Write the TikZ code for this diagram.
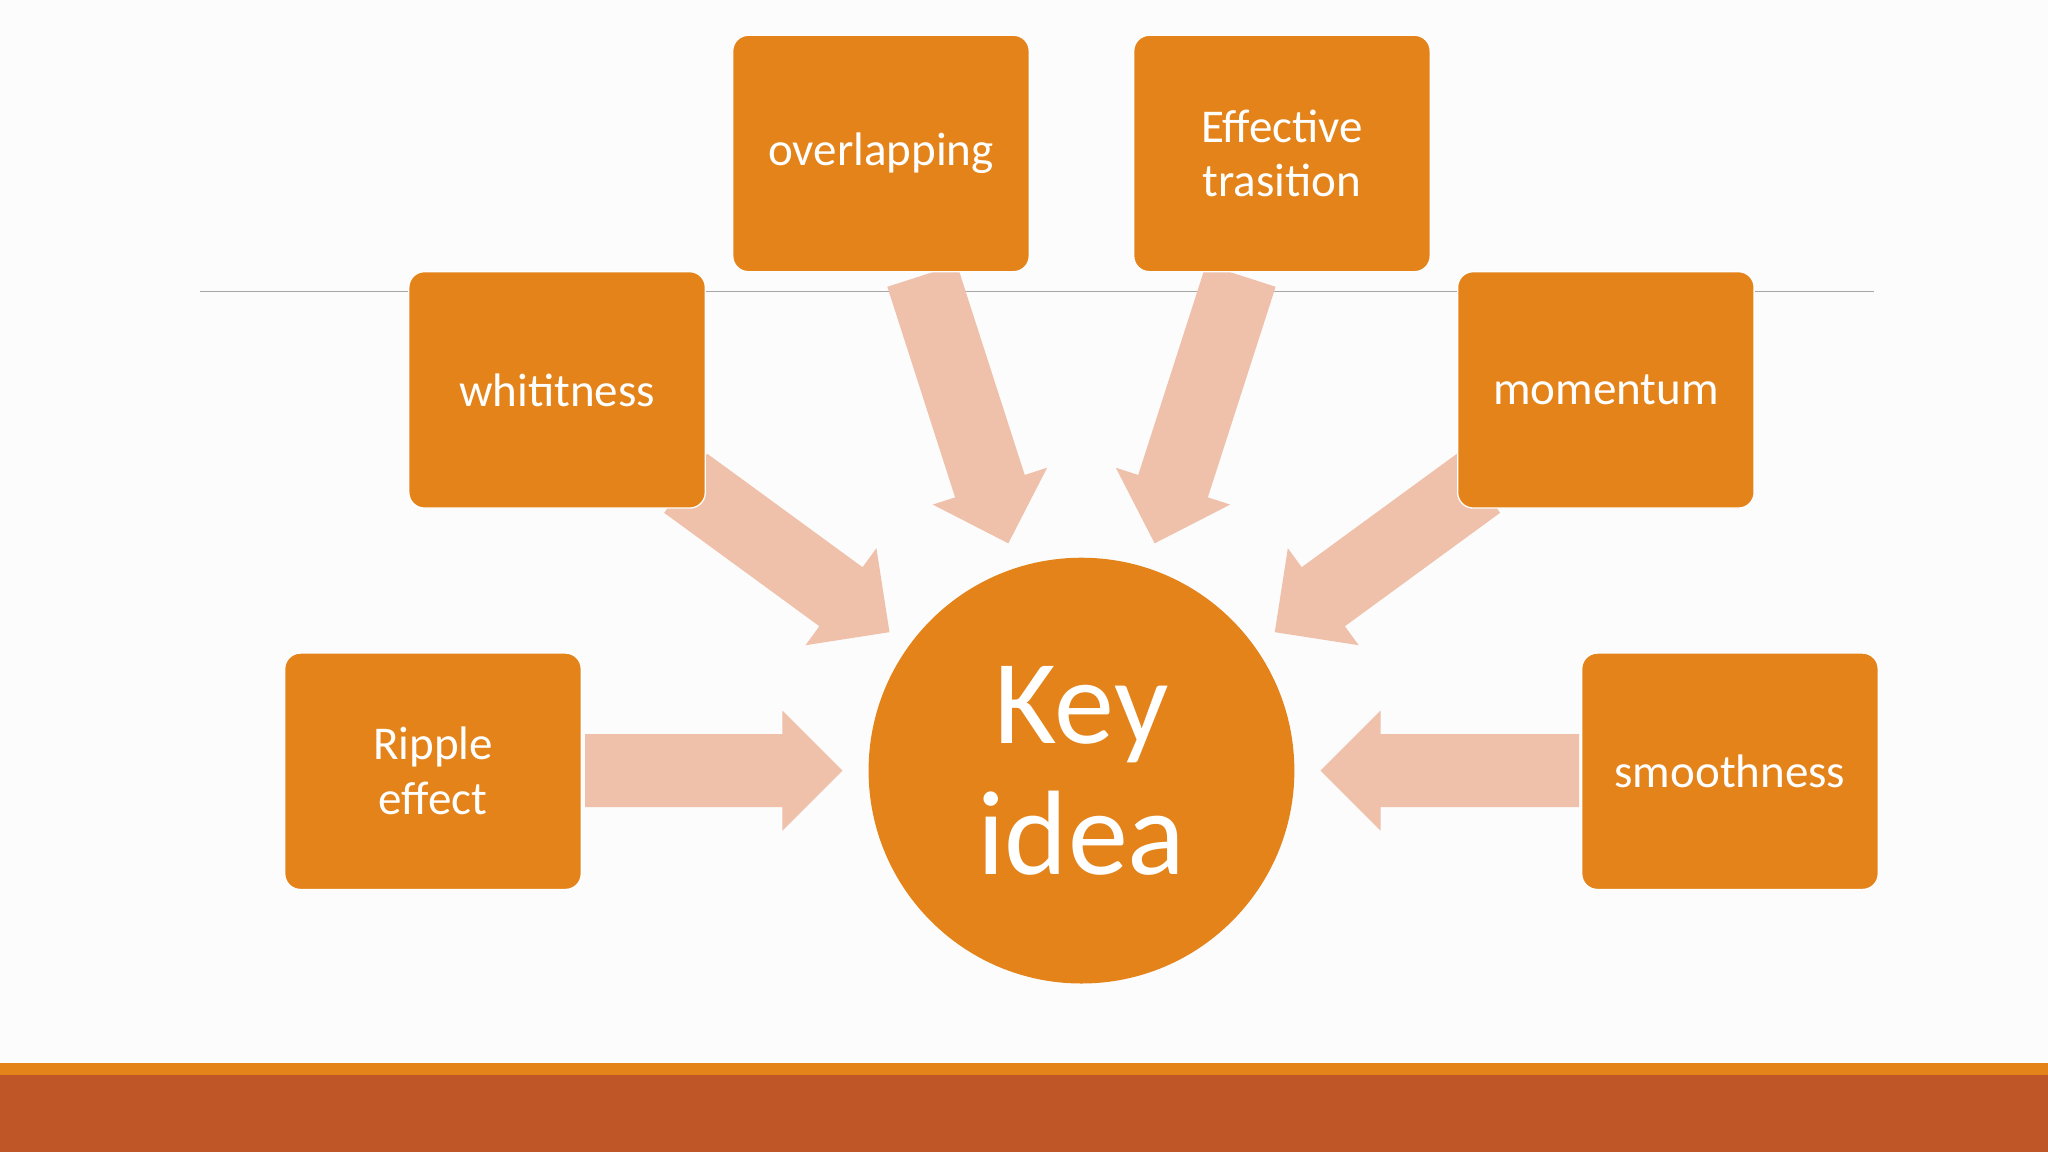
\documentclass[tikz,border=0pt]{standalone}
\usepackage{fontspec}
\setmainfont{Carlito}
\usetikzlibrary{calc}
\definecolor{boxor}{HTML}{E3831A}
\definecolor{arrowpk}{HTML}{EFC0AA}
\definecolor{bandred}{HTML}{BE5628}
\tikzset{
  keybox/.style={rectangle, rounded corners=12pt, fill=boxor, draw=white, line width=1pt,
    minimum width=227pt, minimum height=181pt, text=white, font=\fontsize{36}{42}\selectfont, align=center},
  arrowfill/.style={fill=arrowpk}
}
\newcommand\fatarrow[2]{%
  \coordinate (hb) at ($(#2)!46pt!(#1)$);
  \fill[arrowfill] ($(#1)!28pt!90:(#2)$) -- ($(hb)!28pt!-90:(#1)$) -- ($(hb)!46pt!-90:(#1)$) -- (#2)
    -- ($(hb)!46pt!90:(#1)$) -- ($(hb)!28pt!90:(#1)$) -- ($(#1)!28pt!-90:(#2)$) -- cycle;}
\begin{document}
\begin{tikzpicture}[x=1pt,y=-1pt]
\fill[white!99!black] (0,0) rectangle (1568,882);
\useasboundingbox (0,0) rectangle (1568,882);
\fill[boxor] (0,814) rectangle (1568,823);
\fill[bandred] (0,823) rectangle (1568,882);
\draw[gray!70, line width=1pt] (153,223) -- (1435,223);
% arrow coordinates
\coordinate (s1) at (706,211); \coordinate (t1) at (772,416);
\coordinate (s2) at (950,211); \coordinate (t2) at (884,416);
\coordinate (s3) at (525,370); \coordinate (t3) at (681,484);
\coordinate (s4) at (1132,370); \coordinate (t4) at (976,484);
\coordinate (s5) at (448,590); \coordinate (t5) at (645,590);
\coordinate (s6) at (1209,590); \coordinate (t6) at (1011,590);
\fatarrow{s1}{t1}
\fatarrow{s2}{t2}
\fatarrow{s3}{t3}
\fatarrow{s4}{t4}
\fatarrow{s5}{t5}
\fatarrow{s6}{t6}
\node[keybox] (ov) at (674.5,117.5) {overlapping};
\node[keybox] (ef) at (981.5,117.5) {Effective\\trasition};
\node[keybox] (wh) at (426.5,298.5) {whititness};
\node[keybox] (mo) at (1229.5,298.5) {momentum};
\node[keybox] (ri) at (331.5,590.5) {Ripple\\effect};
\node[keybox] (sm) at (1324.5,590.5) {smoothness};
\node[circle, fill=boxor, minimum size=326pt, inner sep=0pt, text=white, align=center,
  font=\fontsize{92}{100}\selectfont] (key) at (828,590) {Key\\idea};
\end{tikzpicture}
\end{document}
